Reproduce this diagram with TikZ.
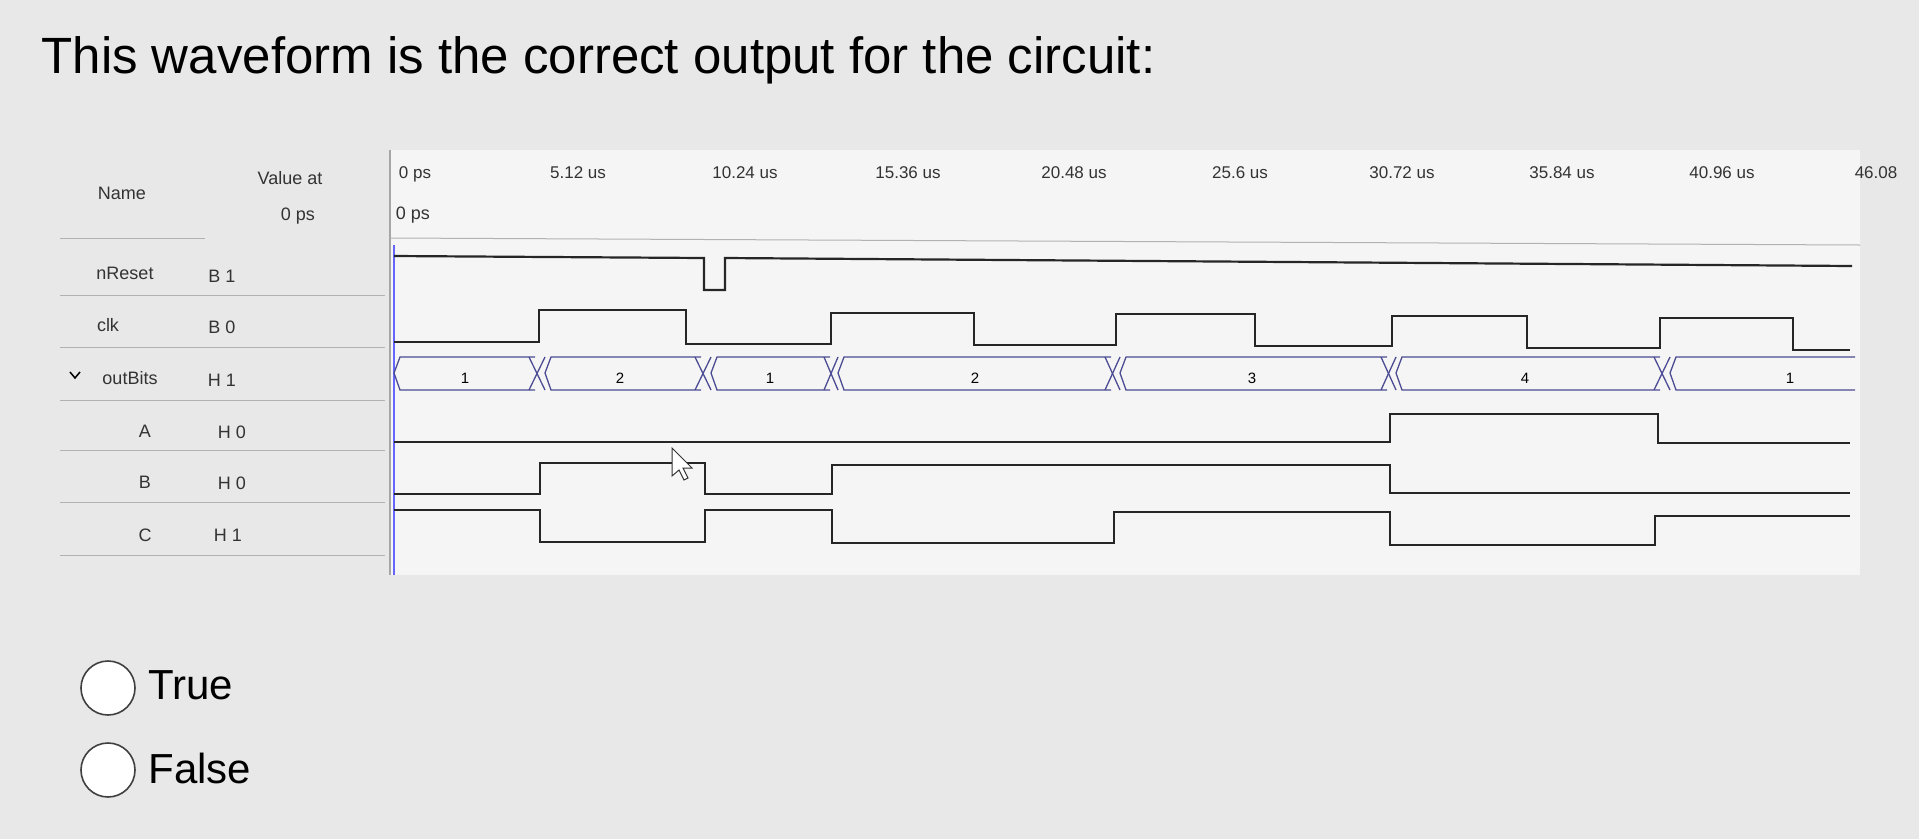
\documentclass[tikz,border=0pt]{standalone}
\usepackage{fontspec}
\setmainfont{Liberation Sans}
\begin{document}
\begin{tikzpicture}[x=1pt,y=-1pt,
  wave/.style={line width=2.2pt,black!85},
  bus/.style={line width=1.3pt,blue!40!black!70},
  lab/.style={font=\fontsize{18}{18}\selectfont,text=black!80},
  tick/.style={font=\fontsize{17}{17}\selectfont,text=black!80,anchor=base},
  sep/.style={gray!60,line width=0.8pt}]
\fill[black!9] (0,0) rectangle (1919,839);
\useasboundingbox (0,0) rectangle (1919,839);
\fill[black!4] (390,150) rectangle (1860,575);
\node[anchor=west,font=\fontsize{51}{51}\selectfont] (title) at (38,60) {This waveform is the correct output for the circuit:};
% header
\node[lab] (name) at (122,193) {Name};
\node[lab] (valat) at (290,178) {Value at};
\node[lab] (v0) at (298,216) {0 ps};
\foreach \x/\t [count=\i] in {415/0 ps,578/5.12 us,745/10.24 us,908/15.36 us,1074/20.48 us,1240/25.6 us,1402/30.72 us,1562/35.84 us,1722/40.96 us,1876/46.08}
  \node[tick] (t\i) at (\x,178) {\t};
\node[lab] (z0) at (413,215) {0 ps};
\draw[gray!70,line width=1.2pt] (390,150) -- (390,575);
\draw[blue!60,line width=2pt] (394,245) -- (394,575);
\draw[gray!60,line width=1pt] (390,238) -- (1860,245);
\draw[sep] (60,238) -- (205,238);
\foreach \y in {295,347,400,450,502,555} \draw[sep] (60,\y) -- (385,\y);
% row labels
\node[lab] (n1) at (125,273) {nReset}; \node[lab] (n1v) at (222,276) {B 1};
\node[lab] (n2) at (108,325) {clk}; \node[lab] (n2v) at (222,327) {B 0};
\node[lab] (n3) at (130,378) {outBits}; \node[lab] (n3v) at (222,380) {H 1};
\draw[line width=1.5pt] (70,372) -- (75,378) -- (80,372);
\node[lab] (n4) at (145,431) {A}; \node[lab] (n4v) at (232,432) {H 0};
\node[lab] (n5) at (145,482) {B}; \node[lab] (n5v) at (232,483) {H 0};
\node[lab] (n6) at (145,535) {C}; \node[lab] (n6v) at (228,535) {H 1};
% nReset
\draw[wave] (394,256) -- (704,258) -- (704,290) -- (725,290) -- (725,258) -- (1852,266);
% clk
\draw[wave] (394,342) -- (539,342) -- (539,310) -- (686,310) -- (686,344) -- (831,344) -- (831,313) -- (974,313) -- (974,345) -- (1116,345) -- (1116,314) -- (1255,314) -- (1255,346) -- (1392,346) -- (1392,316) -- (1527,316) -- (1527,348) -- (1660,348) -- (1660,318) -- (1793,318) -- (1793,350) -- (1850,350);
% bus
\foreach \a/\b in {394/535,545/701,711/830,838/1111,1120/1387,1396/1660,1670/1855}
  \draw[bus] (\b,357) -- (\a+6,357) -- (\a,373) -- (\a+6,390) -- (\b,390);
\foreach \a/\b in {535/545,701/711,830/838,1111/1120,1387/1396,1660/1670}
  {\draw[bus] (\a-6,357) -- (\b,390); \draw[bus] (\a-6,390) -- (\b,357);}
\foreach \x/\v [count=\i] in {465/1,620/2,770/1,975/2,1252/3,1525/4,1790/1}
  \node[font=\fontsize{15}{15}\selectfont] (d\i) at (\x,378) {\v};
% A
\draw[wave] (394,442) -- (1390,442) -- (1390,414) -- (1658,414) -- (1658,443) -- (1850,443);
% B
\draw[wave] (394,494) -- (540,494) -- (540,463) -- (705,463) -- (705,494) -- (832,494) -- (832,465) -- (1390,465) -- (1390,493) -- (1850,493);
% C
\draw[wave] (394,510) -- (540,510) -- (540,542) -- (705,542) -- (705,510) -- (832,510) -- (832,543) -- (1114,543) -- (1114,512) -- (1390,512) -- (1390,545) -- (1655,545) -- (1655,516) -- (1850,516);
% cursor
\draw[black!80,fill=white,line width=1pt] (672,448) -- (672,476) -- (679,470) -- (684,480) -- (688,478) -- (683,468) -- (692,468) -- cycle;
% radios
\draw[black!75,line width=1.6pt,fill=white] (108,688) circle (27);
\draw[black!75,line width=1.6pt,fill=white] (108,770) circle (27);
\node[anchor=west,font=\fontsize{42}{42}\selectfont] (true) at (145,685) {True};
\node[anchor=west,font=\fontsize{42}{42}\selectfont] (false) at (145,768) {False};
\end{tikzpicture}
\end{document}
